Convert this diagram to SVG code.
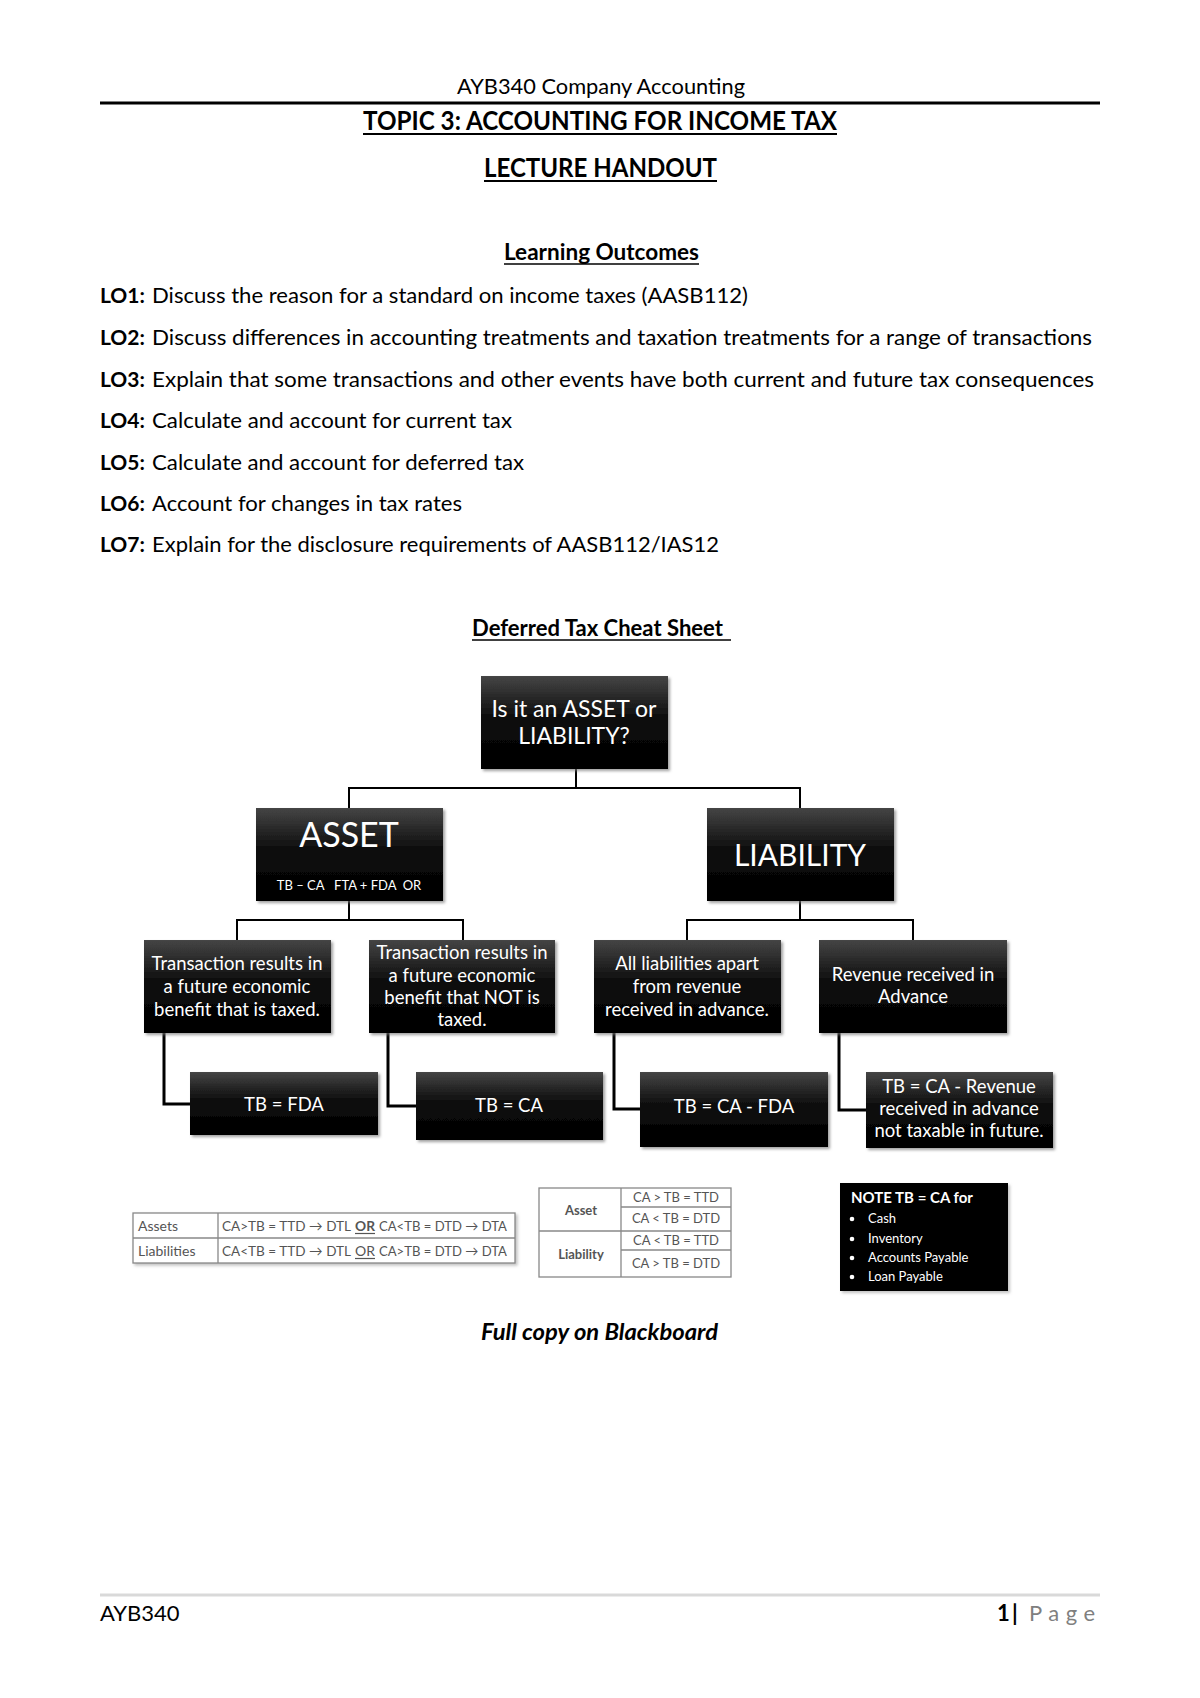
<svg xmlns="http://www.w3.org/2000/svg" width="1200" height="1698" viewBox="0 0 1200 1698">
<defs>
<linearGradient id="boxg" x1="0" y1="0" x2="0" y2="1">
<stop offset="0" stop-color="#454545"/>
<stop offset="0.45" stop-color="#0c0c0c"/>
<stop offset="1" stop-color="#000"/>
</linearGradient>
<filter id="sh" x="-10%" y="-10%" width="125%" height="130%">
<feDropShadow dx="2" dy="2" stdDeviation="1.5" flood-color="#777" flood-opacity="0.7"/>
</filter>
<filter id="sh2" x="-5%" y="-10%" width="115%" height="130%">
<feDropShadow dx="2" dy="2" stdDeviation="1.5" flood-color="#999" flood-opacity="0.6"/>
</filter>
</defs>
<style>
text{font-family:Lato,"Liberation Sans",sans-serif;}
.hd{font-size:22px;fill:#000;}
.b{font-weight:bold;}
.body{font-size:21px;fill:#000;}
.box{fill:url(#boxg);filter:url(#sh);}
.bt{fill:#fff;text-anchor:middle;}
.t3{font-size:18.5px;}
.conn{fill:none;stroke:#000;stroke-width:2;}
.elb{fill:none;stroke:#000;stroke-width:3;}
.tb{fill:#fff;stroke:#888;stroke-width:1.3;}
.tl{stroke:#888;stroke-width:1.3;}
.tt{font-size:14px;fill:#555;}
.t2{font-size:13px;fill:#555;}
.nt{fill:#fff;font-size:13px;}
</style>
<rect width="1200" height="1698" fill="#fff"/>

<!-- Header -->
<text class="hd" x="457" y="94" textLength="288" lengthAdjust="spacingAndGlyphs">AYB340 Company Accounting</text>
<line x1="100" y1="103" x2="1100" y2="103" stroke="#000" stroke-width="3"/>

<text class="b" x="363" y="130" font-size="26" textLength="474" lengthAdjust="spacingAndGlyphs">TOPIC 3: ACCOUNTING FOR INCOME TAX</text>
<line x1="363" y1="134" x2="837" y2="134" stroke="#000" stroke-width="2"/>
<text class="b" x="484" y="177" font-size="26" textLength="233" lengthAdjust="spacingAndGlyphs">LECTURE HANDOUT</text>
<line x1="484" y1="181" x2="717" y2="181" stroke="#000" stroke-width="2"/>

<text class="b" x="504" y="260" font-size="22" textLength="195" lengthAdjust="spacingAndGlyphs">Learning Outcomes</text>
<line x1="504" y1="264" x2="699" y2="264" stroke="#000" stroke-width="1.5"/>

<g id="outcomes">
<text class="body b" x="100" y="303">LO1:</text>
<text class="body" x="152" y="303" textLength="596" lengthAdjust="spacingAndGlyphs">Discuss the reason for a standard on income taxes (AASB112)</text>
<text class="body b" x="100" y="345">LO2:</text>
<text class="body" x="152" y="345" textLength="940" lengthAdjust="spacingAndGlyphs">Discuss differences in accounting treatments and taxation treatments for a range of transactions</text>
<text class="body b" x="100" y="387">LO3:</text>
<text class="body" x="152" y="387" textLength="942" lengthAdjust="spacingAndGlyphs">Explain that some transactions and other events have both current and future tax consequences</text>
<text class="body b" x="100" y="428">LO4:</text>
<text class="body" x="152" y="428" textLength="360" lengthAdjust="spacingAndGlyphs">Calculate and account for current tax</text>
<text class="body b" x="100" y="470">LO5:</text>
<text class="body" x="152" y="470" textLength="372" lengthAdjust="spacingAndGlyphs">Calculate and account for deferred tax</text>
<text class="body b" x="100" y="511">LO6:</text>
<text class="body" x="152" y="511" textLength="310" lengthAdjust="spacingAndGlyphs">Account for changes in tax rates</text>
<text class="body b" x="100" y="552">LO7:</text>
<text class="body" x="152" y="552" textLength="567" lengthAdjust="spacingAndGlyphs">Explain for the disclosure requirements of AASB112/IAS12</text>
</g>

<text class="b" x="472" y="636" font-size="22" textLength="251" lengthAdjust="spacingAndGlyphs">Deferred Tax Cheat Sheet</text>
<line x1="472" y1="640" x2="731" y2="640" stroke="#000" stroke-width="1.5"/>

<!-- Connectors -->
<g id="connectors">
<path class="conn" d="M576 769 V788 M349 808 V788 H800 V808"/>
<path class="conn" d="M349 901 V920 M237 940 V920 H463 V940"/>
<path class="conn" d="M800 901 V920 M687 940 V920 H913 V940"/>
<path class="elb" d="M164 1033 V1104 H190"/>
<path class="elb" d="M388 1033 V1106 H416"/>
<path class="elb" d="M614 1033 V1109 H640"/>
<path class="elb" d="M839 1033 V1110 H866"/>
</g>

<!-- Nodes -->
<g id="n-question">
<rect class="box" x="481" y="676" width="187" height="93"/>
<text class="bt" x="574" y="717" font-size="23">Is it an ASSET or</text>
<text class="bt" x="574" y="744" font-size="23">LIABILITY?</text>
</g>
<g id="n-asset">
<rect class="box" x="256" y="808" width="187" height="93"/>
<text class="bt" x="349" y="847" font-size="34">ASSET</text>
<text class="bt" x="349" y="890" font-size="13" xml:space="preserve">TB – CA   FTA + FDA  OR</text>
</g>
<g id="n-liability">
<rect class="box" x="707" y="808" width="187" height="93"/>
<text class="bt" x="800" y="866" font-size="30">LIABILITY</text>
</g>
<g id="n-a1">
<rect class="box" x="144" y="940" width="187" height="93"/>
<text class="bt t3" x="237" y="970">Transaction results in</text>
<text class="bt t3" x="237" y="993">a future economic</text>
<text class="bt t3" x="237" y="1016">benefit that is taxed.</text>
</g>
<g id="n-a2">
<rect class="box" x="369" y="940" width="186" height="93"/>
<text class="bt t3" x="462" y="959">Transaction results in</text>
<text class="bt t3" x="462" y="982">a future economic</text>
<text class="bt t3" x="462" y="1004">benefit that NOT is</text>
<text class="bt t3" x="462" y="1026">taxed.</text>
</g>
<g id="n-l1">
<rect class="box" x="594" y="940" width="187" height="93"/>
<text class="bt t3" x="687" y="970">All liabilities apart</text>
<text class="bt t3" x="687" y="993">from revenue</text>
<text class="bt t3" x="687" y="1016">received in advance.</text>
</g>
<g id="n-l2">
<rect class="box" x="819" y="940" width="188" height="93"/>
<text class="bt t3" x="913" y="981">Revenue received in</text>
<text class="bt t3" x="913" y="1003">Advance</text>
</g>
<g id="n-b1">
<rect class="box" x="190" y="1072" width="188" height="63"/>
<text class="bt t3" x="284" y="1111">TB = FDA</text>
</g>
<g id="n-b2">
<rect class="box" x="416" y="1072" width="187" height="68"/>
<text class="bt t3" x="509" y="1112">TB = CA</text>
</g>
<g id="n-b3">
<rect class="box" x="640" y="1072" width="188" height="75"/>
<text class="bt t3" x="734" y="1113">TB = CA - FDA</text>
</g>
<g id="n-b4">
<rect class="box" x="866" y="1072" width="187" height="76"/>
<text class="bt t3" x="959" y="1093">TB = CA - Revenue</text>
<text class="bt t3" x="959" y="1115">received in advance</text>
<text class="bt t3" x="959" y="1137">not taxable in future.</text>
</g>

<!-- Table 1 -->
<g id="table1">
<rect class="tb" x="133" y="1213" width="382" height="50" filter="url(#sh2)"/>
<line class="tl" x1="218" y1="1213" x2="218" y2="1263"/>
<line class="tl" x1="133" y1="1238" x2="515" y2="1238"/>
<text class="tt" x="138" y="1231">Assets</text>
<text class="tt" x="138" y="1256">Liabilities</text>
<text class="tt" x="222" y="1231" textLength="129" lengthAdjust="spacingAndGlyphs">CA&gt;TB = TTD → DTL</text>
<text class="tt b" x="355" y="1231" textLength="20" lengthAdjust="spacingAndGlyphs">OR</text>
<text class="tt" x="379" y="1231" textLength="128" lengthAdjust="spacingAndGlyphs">CA&lt;TB = DTD → DTA</text>
<line x1="355" y1="1233.5" x2="375" y2="1233.5" stroke="#555" stroke-width="1.2"/>
<text class="tt" x="222" y="1256" textLength="129" lengthAdjust="spacingAndGlyphs">CA&lt;TB = TTD → DTL</text>
<text class="tt" x="355" y="1256" textLength="20" lengthAdjust="spacingAndGlyphs">OR</text>
<text class="tt" x="379" y="1256" textLength="128" lengthAdjust="spacingAndGlyphs">CA&gt;TB = DTD → DTA</text>
<line x1="355" y1="1258.5" x2="375" y2="1258.5" stroke="#555" stroke-width="1.2"/>
</g>

<!-- Table 2 -->
<g id="table2">
<rect class="tb" x="539" y="1188" width="192" height="89" stroke="#444"/>
<line class="tl" x1="621" y1="1188" x2="621" y2="1277" stroke="#444"/>
<line class="tl" x1="539" y1="1231" x2="731" y2="1231" stroke="#444" stroke-width="1.6"/>
<line class="tl" x1="621" y1="1207" x2="731" y2="1207" stroke="#444" stroke-width="1.6"/>
<line class="tl" x1="621" y1="1250" x2="731" y2="1250" stroke="#ccc"/>
<text class="t2 b" x="581" y="1215" text-anchor="middle" fill="#444">Asset</text>
<text class="t2 b" x="581" y="1259" text-anchor="middle" fill="#444">Liability</text>
<text class="t2" x="676" y="1202" text-anchor="middle">CA &gt; TB = TTD</text>
<text class="t2" x="676" y="1223" text-anchor="middle">CA &lt; TB = DTD</text>
<text class="t2" x="676" y="1245" text-anchor="middle">CA &lt; TB = TTD</text>
<text class="t2" x="676" y="1268" text-anchor="middle">CA &gt; TB = DTD</text>
</g>

<!-- Note -->
<g id="note">
<rect x="840" y="1183" width="168" height="108" fill="#000" filter="url(#sh2)"/>
<text x="851" y="1203" font-size="15" font-weight="bold" fill="#fff">NOTE TB = CA for</text>
<circle cx="852" cy="1219" r="2.3" fill="#fff"/>
<circle cx="852" cy="1239" r="2.3" fill="#fff"/>
<circle cx="852" cy="1258" r="2.3" fill="#fff"/>
<circle cx="852" cy="1277" r="2.3" fill="#fff"/>
<text class="nt" x="868" y="1223">Cash</text>
<text class="nt" x="868" y="1243">Inventory</text>
<text class="nt" x="868" y="1262">Accounts Payable</text>
<text class="nt" x="868" y="1281">Loan Payable</text>
</g>

<text x="481" y="1340" font-size="22" font-weight="bold" font-style="italic" textLength="237" lengthAdjust="spacingAndGlyphs">Full copy on Blackboard</text>

<!-- Footer -->
<line x1="100" y1="1595" x2="1100" y2="1595" stroke="#d9d9d9" stroke-width="3"/>
<text class="hd" x="100" y="1621">AYB340</text>
<text x="997" y="1621" font-size="22" font-weight="bold">1</text>
<text x="1012" y="1621" font-size="22" font-weight="bold">|</text>
<text x="1029" y="1621" font-size="22" fill="#7f7f7f" letter-spacing="6.5">Page</text>
</svg>
